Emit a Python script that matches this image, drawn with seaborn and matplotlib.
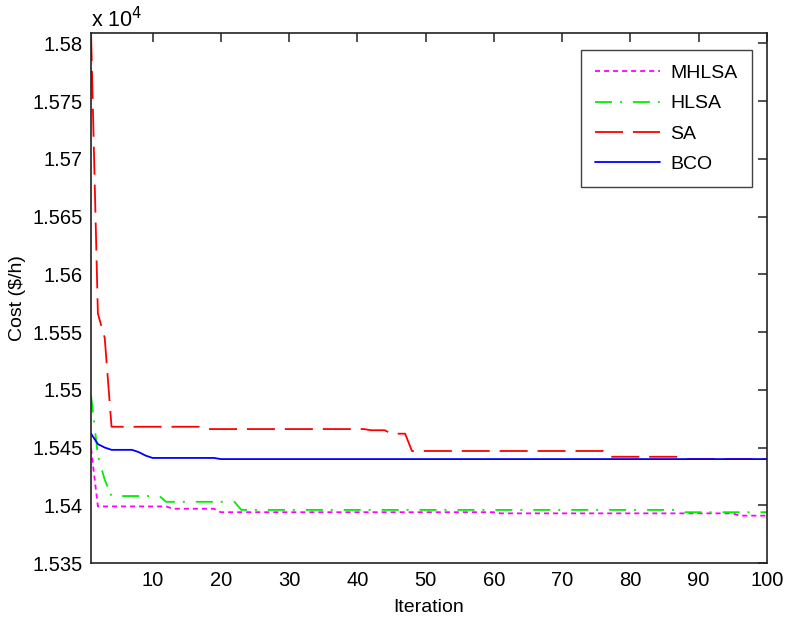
import numpy as np
import pandas as pd
import seaborn as sns
import matplotlib.pyplot as plt
from matplotlib.ticker import FuncFormatter

# data (cost in $/h per iteration)
iterations = list(range(1, 101))
algorithms = ["MHLSA", "HLSA", "SA", "BCO"]

mhlsa = [15449, 15399, 15399, 15399, 15399, 15399, 15399, 15399, 15399, 15399,
         15399, 15399, 15397, 15397, 15397, 15397, 15397, 15397, 15397, 15394,
         15394, 15394, 15394, 15394, 15394, 15394, 15394, 15394, 15394, 15394,
         15394, 15394, 15394, 15394, 15394, 15394, 15394, 15394, 15394, 15394,
         15394, 15394, 15394, 15394, 15394, 15394, 15394, 15394, 15394, 15394,
         15394, 15394, 15394, 15394, 15394, 15394, 15394, 15394, 15394, 15394,
         15393, 15393, 15393, 15393, 15393, 15393, 15393, 15393, 15393, 15393,
         15393, 15393, 15393, 15393, 15393, 15393, 15393, 15393, 15393, 15393,
         15393, 15393, 15393, 15393, 15393, 15393, 15393, 15393, 15393, 15393,
         15393, 15393, 15393, 15393, 15393, 15391, 15391, 15391, 15391, 15391]

hlsa = [15495, 15443, 15422, 15408, 15408, 15408, 15408, 15408, 15408, 15408,
        15408, 15403, 15403, 15403, 15403, 15403, 15403, 15403, 15403, 15403,
        15403, 15403, 15396, 15396, 15396, 15396, 15396, 15396, 15396, 15396,
        15396, 15396, 15396, 15396, 15396, 15396, 15396, 15396, 15396, 15396,
        15396, 15396, 15396, 15396, 15396, 15396, 15396, 15396, 15396, 15396,
        15396, 15396, 15396, 15396, 15396, 15396, 15396, 15396, 15396, 15396,
        15396, 15396, 15396, 15396, 15396, 15396, 15396, 15396, 15396, 15396,
        15396, 15396, 15396, 15396, 15396, 15396, 15396, 15396, 15396, 15396,
        15396, 15396, 15396, 15396, 15396, 15396, 15396, 15394, 15394, 15394,
        15394, 15394, 15394, 15394, 15394, 15394, 15394, 15394, 15394, 15394]

sa = [15809, 15566, 15545, 15468, 15468, 15468, 15468, 15468, 15468, 15468,
      15468, 15468, 15468, 15468, 15468, 15468, 15468, 15466, 15466, 15466,
      15466, 15466, 15466, 15466, 15466, 15466, 15466, 15466, 15466, 15466,
      15466, 15466, 15466, 15466, 15466, 15466, 15466, 15466, 15466, 15466,
      15466, 15465, 15465, 15465, 15462, 15462, 15462, 15447, 15447, 15447,
      15447, 15447, 15447, 15447, 15447, 15447, 15447, 15447, 15447, 15447,
      15447, 15447, 15447, 15447, 15447, 15447, 15447, 15447, 15447, 15447,
      15447, 15447, 15447, 15447, 15447, 15447, 15442, 15442, 15442, 15442,
      15442, 15442, 15442, 15442, 15442, 15442, 15442, 15440, 15440, 15440,
      15440, 15440, 15440, 15440, 15440, 15440, 15440, 15440, 15440, 15440]

bco = [15462, 15453, 15450, 15448, 15448, 15448, 15448, 15446, 15443, 15441,
       15441, 15441, 15441, 15441, 15441, 15441, 15441, 15441, 15441, 15440,
       15440, 15440, 15440, 15440, 15440, 15440, 15440, 15440, 15440, 15440,
       15440, 15440, 15440, 15440, 15440, 15440, 15440, 15440, 15440, 15440,
       15440, 15440, 15440, 15440, 15440, 15440, 15440, 15440, 15440, 15440,
       15440, 15440, 15440, 15440, 15440, 15440, 15440, 15440, 15440, 15440,
       15440, 15440, 15440, 15440, 15440, 15440, 15440, 15440, 15440, 15440,
       15440, 15440, 15440, 15440, 15440, 15440, 15440, 15440, 15440, 15440,
       15440, 15440, 15440, 15440, 15440, 15440, 15440, 15440, 15440, 15440,
       15440, 15440, 15440, 15440, 15440, 15440, 15440, 15440, 15440, 15440]

yticks = [15350, 15400, 15450, 15500, 15550, 15600, 15650, 15700, 15750, 15800]
xticks = [10, 20, 30, 40, 50, 60, 70, 80, 90, 100]

data = pd.DataFrame({
    "Iteration": iterations * 4,
    "Cost": mhlsa + hlsa + sa + bco,
    "Algorithm": [a for a in algorithms for _ in iterations],
})

sns.set_theme(style="white")
plt.rcParams["font.family"] = ["Liberation Sans", "DejaVu Sans"]
plt.rcParams["xtick.direction"] = "in"
plt.rcParams["ytick.direction"] = "in"
plt.rcParams["text.color"] = "black"
plt.rcParams["axes.labelcolor"] = "black"
plt.rcParams["xtick.labelcolor"] = "black"
plt.rcParams["ytick.labelcolor"] = "black"

colors = {"MHLSA": "#FF00FF", "HLSA": "#00EE00", "SA": "#FF0000", "BCO": "#0000FF"}
dashes = {"MHLSA": (2.8, 2.2), "HLSA": (9.4, 4.4, 1.1, 6.1), "SA": (15.5, 5.5), "BCO": ""}

fig = plt.figure(figsize=(7.85, 6.17), dpi=100)
ax = fig.add_axes([0.116, 0.0875, 0.861, 0.859])

sns.lineplot(data=data, x="Iteration", y="Cost", hue="Algorithm", style="Algorithm",
             palette=colors, dashes=dashes, hue_order=algorithms, style_order=algorithms,
             linewidth=1.3, ax=ax)

ax.set_xlim(1, 100)
ax.set_ylim(15350, 15809)
ax.set_xticks(xticks)
ax.set_yticks(yticks)
ax.yaxis.set_major_formatter(FuncFormatter(lambda v, _: f"{v / 1e4:g}"))
ax.tick_params(axis="both", labelsize=14.5, length=6.5, width=1.1, color="#222222",
               labelcolor="black", top=True, right=True, pad=6)
for s in ax.spines.values():
    s.set_color("#222222")
    s.set_linewidth(1.2)

ax.set_xlabel("Iteration", fontsize=14, labelpad=6, color="black")
ax.set_ylabel(r"Cost (\$/h)", fontsize=14, labelpad=5, color="black")
ax.text(0, 1.011, r"x 10$^4$", transform=ax.transAxes, ha="left", va="baseline",
        fontsize=15.5, color="black")

handles, labels = ax.get_legend_handles_labels()
leg = ax.legend(handles, labels, loc="upper right", bbox_to_anchor=(0.978, 0.968),
                borderaxespad=0, fontsize=14, handlelength=3.3, frameon=True, fancybox=False,
                borderpad=0.75, labelspacing=0.65, handletextpad=0.55)
leg.get_frame().set_edgecolor("#111111")
leg.get_frame().set_linewidth(1.0)
for t in leg.get_texts():
    t.set_color("black")

fig.savefig("out.png", dpi=100)
